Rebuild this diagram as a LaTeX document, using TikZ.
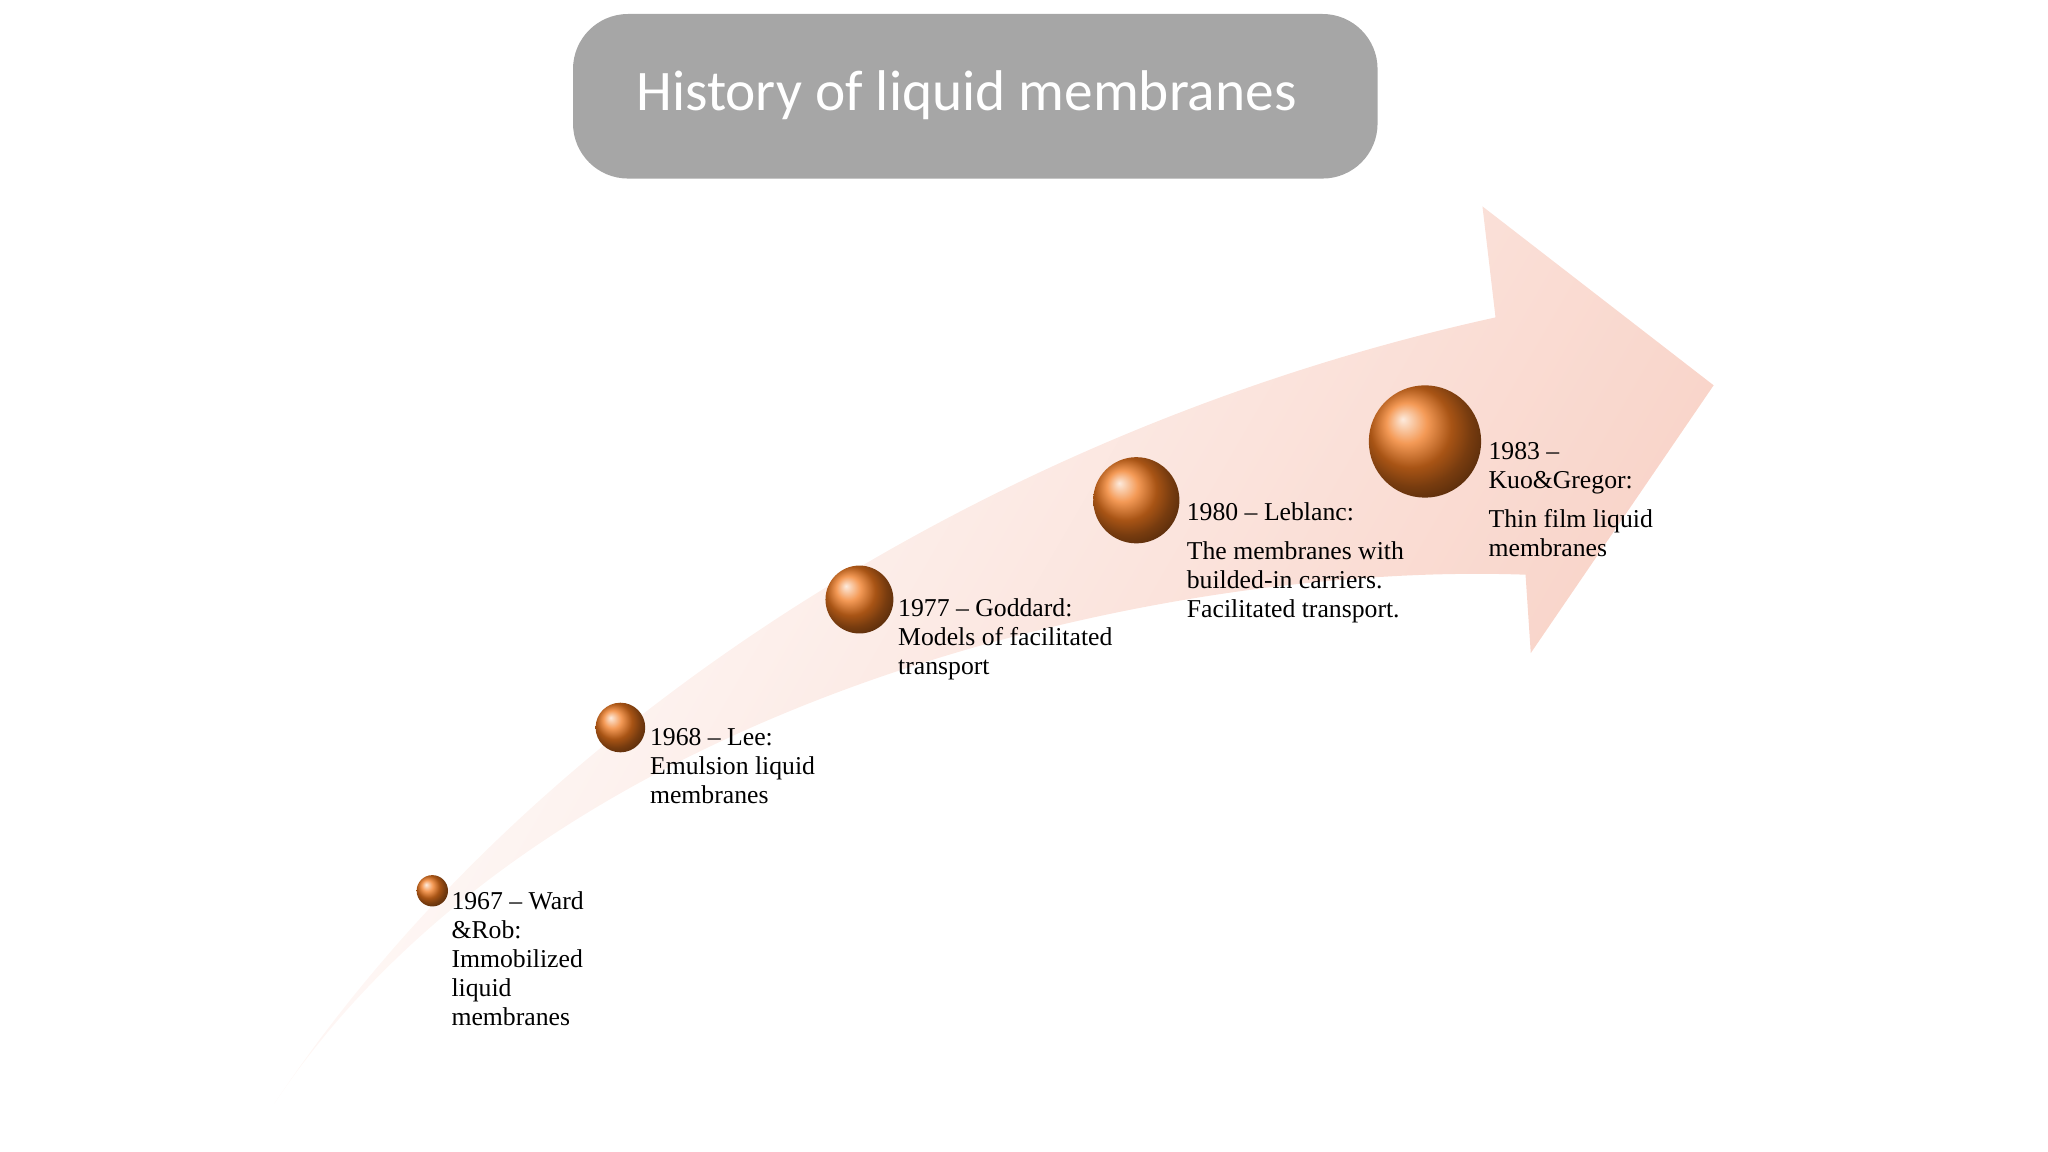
\documentclass[tikz,border=0pt]{standalone}
\usepackage{fontspec}
\setmainfont{Liberation Serif}
\newfontfamily\titlefont{Carlito}
\definecolor{pinkc}{RGB}{248,208,196}
\definecolor{titlegray}{RGB}{166,166,166}
\definecolor{orb}{RGB}{240,120,30}
\begin{document}
\begin{tikzpicture}[x=0.1mm,y=-0.1mm,
  lbl/.style={anchor=north west,align=left,inner sep=0pt,font=\fontsize{5.6pt}{6.3pt}\selectfont},
  orbst/.style={circle,ball color=orb,inner sep=0pt}]
\useasboundingbox (0,0) rectangle (1568,882);
\shade[left color=white,right color=pinkc,shading angle=60]
 (210,845) .. controls (400,560) and (750,330) .. (1145,243)
 -- (1135,158) -- (1312,295) -- (1172,500) -- (1168,440)
 .. controls (900,430) and (420,530) .. (210,845) -- cycle;
\node[fill=titlegray,rounded corners=12pt,minimum width=616*0.1mm,minimum height=126*0.1mm,anchor=north west,inner sep=0pt] (title) at (438,10) {};
\node[text=white,font=\titlefont\fontsize{12.5pt}{14pt}\selectfont] (tt) at (740,73) {History of liquid membranes};
\node[orbst,minimum size=24*0.1mm] (b1) at (331,682) {};
\node[orbst,minimum size=38*0.1mm] (b2) at (475,557) {};
\node[orbst,minimum size=52*0.1mm] (b3) at (658,459) {};
\node[orbst,minimum size=66*0.1mm] (b4) at (870,383) {};
\node[orbst,minimum size=86*0.1mm] (b5) at (1091,338) {};
\node[lbl] (t1) at (345,682) {1967 -- Ward\\\&Rob:\\Immobilized\\liquid\\membranes};
\node[lbl] (t2) at (497,557) {1968 -- Lee:\\Emulsion liquid\\membranes};
\node[lbl] (t3) at (687,458) {1977 -- Goddard:\\Models of facilitated\\transport};
\node[lbl] (t4) at (908,384) {1980 -- Leblanc:\\[2.2pt]The membranes with\\builded-in carriers.\\Facilitated transport.};
\node[lbl] (t5) at (1139,338) {1983 --\\Kuo\&Gregor:\\[2.2pt]Thin film liquid\\membranes};
\end{tikzpicture}
\end{document}
